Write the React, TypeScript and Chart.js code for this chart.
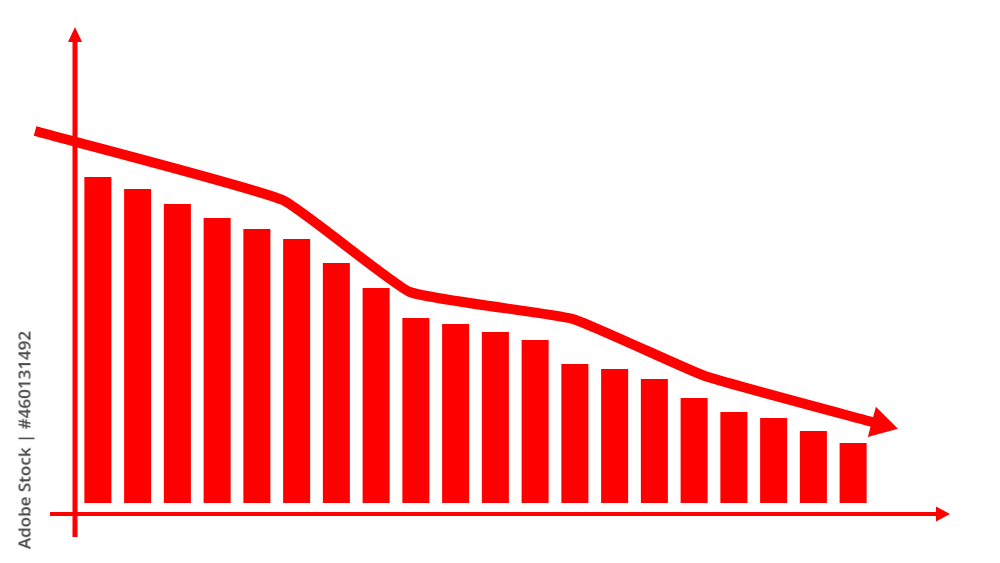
import React, { useEffect, useRef } from "react";
import { Chart, registerables } from "chart.js";

Chart.register(...registerables);

const categories = ["1", "2", "3", "4", "5", "6", "7", "8", "9", "10", "11", "12", "13", "14", "15", "16", "17", "18", "19", "20"];
const barValues = [81.5, 78.5, 74.75, 71.25, 68.5, 66, 60, 53.75, 46.25, 44.75, 42.75, 40.75, 34.75, 33.5, 31, 26.25, 22.75, 21.25, 18, 15];
const trendX = [-1.58, 4.65, 7.85, 11.95, 15.27, 19.69];
const trendY = [93, 75.75, 52.75, 46, 31.75, 19.7];
const arrowX = [19.69];
const arrowY = [19.7];
const creditText = "Adobe Stock | #460131492";

const RED = "#ff0000";

const axesPlugin = {
  id: "arrowAxes",
  beforeDatasetsDraw(chart: any) {
    const { ctx, chartArea } = chart;
    const yBase = chart.scales.y.getPixelForValue(0);
    const ax = chartArea.left - 3;
    const ay = yBase + 11;
    ctx.save();
    ctx.fillStyle = RED;
    ctx.strokeStyle = RED;
    ctx.lineWidth = 5;
    ctx.beginPath();
    ctx.moveTo(ax, yBase + 34);
    ctx.lineTo(ax, chartArea.top - 63);
    ctx.stroke();
    ctx.beginPath();
    ctx.moveTo(ax, chartArea.top - 76);
    ctx.lineTo(ax - 7, chartArea.top - 61);
    ctx.lineTo(ax + 7, chartArea.top - 61);
    ctx.closePath();
    ctx.fill();
    ctx.lineWidth = 4;
    ctx.beginPath();
    ctx.moveTo(chartArea.left - 28, ay);
    ctx.lineTo(chartArea.right + 66, ay);
    ctx.stroke();
    ctx.beginPath();
    ctx.moveTo(chartArea.right + 77, ay);
    ctx.lineTo(chartArea.right + 63, ay - 7.5);
    ctx.lineTo(chartArea.right + 63, ay + 7.5);
    ctx.closePath();
    ctx.fill();
    ctx.restore();
  },
};

export default function App() {
  const ref = useRef<HTMLCanvasElement | null>(null);

  useEffect(() => {
    document.body.style.margin = "0";
    const canvas = ref.current;
    if (!canvas) return;
    const chart = new Chart(canvas, {
      type: "bar",
      data: {
        datasets: [
          {
            type: "bar",
            label: "bars",
            data: categories.map((_, i) => ({ x: i, y: barValues[i] })),
            backgroundColor: RED,
            borderWidth: 0,
            barPercentage: 0.68,
            categoryPercentage: 1,
            grouped: false,
            order: 2,
          } as any,
          {
            type: "line",
            label: "trend",
            data: trendX.map((x, i) => ({ x, y: trendY[i] })),
            borderColor: RED,
            borderWidth: 10,
            pointRadius: 0,
            tension: 0.12,
            borderJoinStyle: "round",
            clip: false,
            order: 1,
          } as any,
          {
            type: "line",
            label: "arrow",
            data: arrowX.map((x, i) => ({ x, y: arrowY[i] })),
            showLine: false,
            backgroundColor: RED,
            borderColor: RED,
            borderWidth: 0,
            pointStyle: "triangle",
            pointRadius: 18,
            pointRotation: 105,
            clip: false,
            order: 0,
          } as any,
        ],
      },
      options: {
        responsive: false,
        animation: false,
        layout: { padding: { left: 78, right: 127, top: 103, bottom: 60 } },
        plugins: { legend: { display: false }, tooltip: { enabled: false } },
        scales: {
          x: { type: "linear", display: false, min: -0.5, max: 19.5, offset: false },
          y: { type: "linear", display: false, min: 0, max: 100 },
        },
      },
      plugins: [axesPlugin],
    });
    return () => chart.destroy();
  }, []);

  return (
    <div style={{ position: "relative", width: 1000, height: 563, background: "#ffffff", overflow: "hidden" }}>
      <canvas ref={ref} width={1000} height={563} style={{ display: "block" }} />
      <div
        style={{
          position: "absolute",
          left: 24,
          top: 440,
          transform: "translate(-50%, -50%) rotate(-90deg)",
          whiteSpace: "nowrap",
          fontFamily: "'Open Sans', sans-serif",
          fontSize: 17,
          fontWeight: 600,
          color: "#444444",
        }}
      >
        {creditText}
      </div>
    </div>
  );
}
